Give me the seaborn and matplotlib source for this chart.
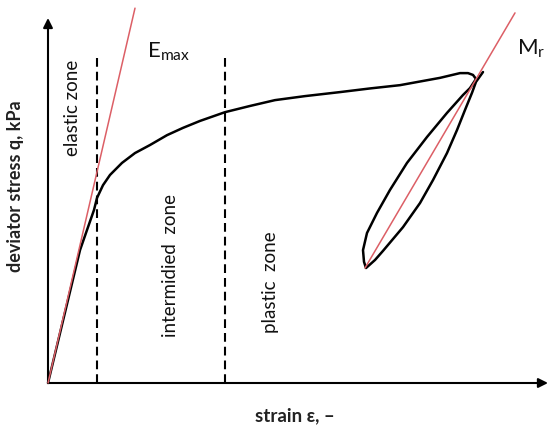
"""Schematic stress-strain curve with zones and modulus lines."""

import matplotlib

matplotlib.use("Agg")
import matplotlib.pyplot as plt
import seaborn as sns

# loading curve up to peak, then unloading/reloading loop
strain = [
    0.00, 0.64, 0.80, 0.92, 0.98, 1.10, 1.24, 1.48, 1.74, 2.04, 2.38, 2.70,
    3.04, 3.54, 4.04, 4.54, 5.14, 5.84, 6.44, 7.04, 7.84, 8.24, 8.40, 8.50,
    8.56,
    8.44, 8.30, 7.98, 7.58, 7.18, 6.84, 6.58, 6.38, 6.30, 6.32, 6.36,
    6.54, 6.70, 7.10, 7.44, 7.70, 7.98, 8.18, 8.34, 8.48, 8.56, 8.70,
]
stress = [
    0.00, 3.64, 4.27, 4.74, 5.07, 5.42, 5.70, 6.03, 6.30, 6.52, 6.79, 6.99,
    7.18, 7.42, 7.59, 7.75, 7.86, 7.97, 8.07, 8.16, 8.36, 8.49, 8.49, 8.44,
    8.33,
    8.08, 7.89, 7.40, 6.74, 6.03, 5.29, 4.66, 4.11, 3.64, 3.32, 3.15,
    3.37, 3.62, 4.27, 4.93, 5.56, 6.30, 6.93, 7.48, 7.95, 8.25, 8.52,
]

# tangent lines: initial modulus and resilient modulus
emax_strain = [0.00, 1.74]
emax_stress = [0.00, 10.27]
mr_strain = [6.34, 9.34]
mr_stress = [3.15, 10.14]

# zone boundaries
zone_bounds = [0.98, 3.54]
zone_top = 8.90
zone_labels = ["elastic zone", "intermidied  zone", "plastic  zone"]
zone_label_x = [0.48, 2.44, 4.44]
zone_label_y = [7.53, 3.21, 2.77]

RED = "#dc5f66"

sns.set_theme(style="white")
plt.rcParams["font.family"] = ["Lato", "DejaVu Sans"]

fig = plt.figure(figsize=(5.5, 4.3), dpi=100)
ax = fig.add_axes([48 / 550, 47 / 430, 500 / 550, 365 / 430])
ax.set_xlim(0, 10)
ax.set_ylim(0, 10)

sns.lineplot(x=strain, y=stress, sort=False, estimator=None, color="black",
             lw=1.8, ax=ax, solid_joinstyle="round", solid_capstyle="round",
             clip_on=False, zorder=3)
sns.lineplot(x=emax_strain, y=emax_stress, sort=False, estimator=None,
             color=RED, lw=1.1, ax=ax, clip_on=False, zorder=4)
sns.lineplot(x=mr_strain, y=mr_stress, sort=False, estimator=None,
             color=RED, lw=1.1, ax=ax, clip_on=False, zorder=4)

ax.vlines(zone_bounds, 0, zone_top, colors="black", lw=1.5,
          linestyles=(0, (4.2, 2.4)))

for label, x, y in zip(zone_labels, zone_label_x, zone_label_y):
    ax.text(x, y, label, rotation=90, ha="center", va="center",
            fontsize=13.5, color="#111111")

ax.text(1.98, 8.90, r"$\mathregular{E_{max}}$", fontsize=16, ha="left",
        va="baseline", color="#111111")
ax.text(9.38, 8.99, r"$\mathregular{M_{r}}$", fontsize=16, ha="left",
        va="baseline", color="#111111")

# axes drawn as arrows
for spine in ax.spines.values():
    spine.set_visible(False)
arrow = dict(arrowstyle="-|>", lw=1.5, color="black", mutation_scale=14,
             shrinkA=0, shrinkB=0)
ax.annotate("", xy=(10.0, 0), xytext=(0, 0), arrowprops=arrow,
            annotation_clip=False)
ax.annotate("", xy=(0, 10.0), xytext=(0, 0), arrowprops=arrow,
            annotation_clip=False)
ax.set_xticks([])
ax.set_yticks([])

ax.text(-0.064, 0.54, "deviator stress q, kPa", transform=ax.transAxes,
        rotation=90, ha="center", va="center", fontsize=13,
        fontweight="bold", color="#222222")
ax.text(0.494, -0.09, "strain ε, –", transform=ax.transAxes,
        ha="center", va="center", fontsize=13.5, fontweight="bold",
        color="#222222")

fig.savefig("out.png", dpi=100)
